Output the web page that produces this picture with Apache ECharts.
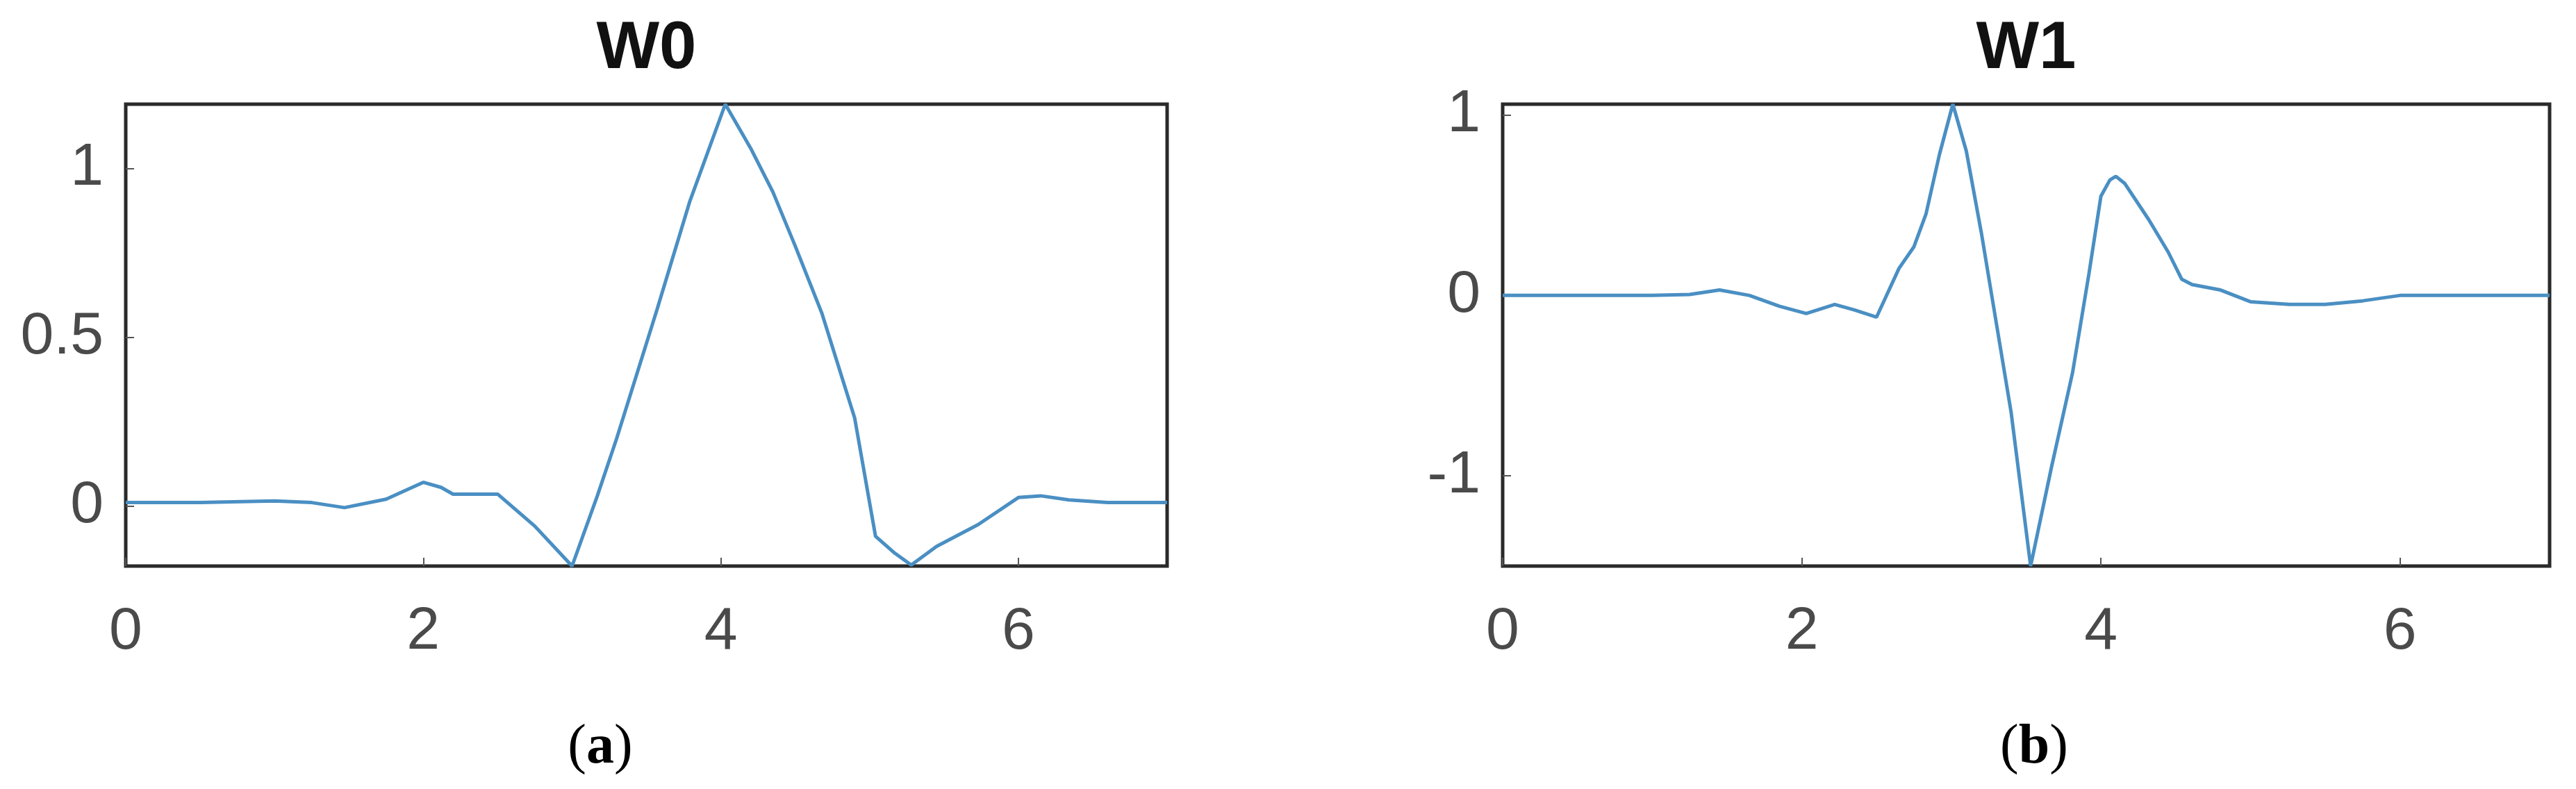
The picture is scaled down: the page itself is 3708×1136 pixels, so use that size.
<!DOCTYPE html>
<html>
<head>
<meta charset="utf-8">
<script src="https://cdn.jsdelivr.net/npm/echarts@6/dist/echarts.min.js"></script>
<style>
html,body{margin:0;padding:0;background:#fff;}
#chart{width:3708px;height:1136px;}
</style>
</head>
<body>
<div id="chart"></div>
<script>
// ---- data ----
const titles = ['W0', 'W1'];
const captions = ['a', 'b'];
const xTicks = [0, 2, 4, 6];
const yTicksW0 = [0, 0.5, 1];
const yTicksW1 = [-1, 0, 1];

const tW0 = [0, 0.5, 1.0, 1.25, 1.47, 1.75, 2.0, 2.12, 2.2, 2.5, 2.75, 3.0, 3.17, 3.3, 3.57, 3.79, 4.03, 4.2, 4.35, 4.5, 4.68, 4.9, 5.04, 5.17, 5.28, 5.45, 5.73, 6.0, 6.15, 6.34, 6.6, 7.0];
const vW0 = [0.01, 0.01, 0.015, 0.01, -0.005, 0.02, 0.07, 0.055, 0.035, 0.035, -0.06, -0.178, 0.03, 0.2, 0.58, 0.9, 1.19, 1.06, 0.93, 0.77, 0.57, 0.26, -0.09, -0.14, -0.175, -0.12, -0.055, 0.025, 0.03, 0.018, 0.01, 0.01];

const tW1 = [0, 0.5, 1.0, 1.25, 1.45, 1.65, 1.85, 2.03, 2.22, 2.35, 2.5, 2.65, 2.75, 2.83, 2.92, 3.01, 3.1, 3.2, 3.3, 3.4, 3.53, 3.67, 3.81, 3.92, 4.0, 4.06, 4.1, 4.16, 4.32, 4.45, 4.54, 4.61, 4.8, 5.0, 5.26, 5.5, 5.75, 6.0, 6.5, 7.0];
const vW1 = [0, 0, 0, 0.005, 0.03, 0, -0.06, -0.1, -0.05, -0.08, -0.12, 0.15, 0.27, 0.45, 0.78, 1.06, 0.8, 0.35, -0.15, -0.65, -1.5, -0.95, -0.43, 0.12, 0.55, 0.64, 0.66, 0.62, 0.42, 0.24, 0.09, 0.06, 0.03, -0.035, -0.05, -0.05, -0.03, 0, 0, 0];

const yRangeW0 = [-0.178, 1.19];
const yRangeW1 = [-1.5, 1.06];
const xRange = [0, 7];

// ---- layout / style ----
const grids = [
  {left: 181, top: 150, width: 1499, height: 665},
  {left: 2163, top: 150, width: 1507, height: 665}
];
const lineColor = '#4a8fc3';
const axisTextColor = '#4a4a4a';
const sansFont = 'Liberation Sans, Arial, Helvetica, sans-serif';
const serifFont = 'Liberation Serif, Times New Roman, serif';

function onTicks(ticks) {
  return function (v) {
    for (const t of ticks) { if (Math.abs(v - t) < 1e-6) return String(t); }
    return '';
  };
}

function xAxis(i) {
  return {
    type: 'value', gridIndex: i, min: xRange[0], max: xRange[1], interval: 2,
    axisLine: {show: false, onZero: false},
    axisTick: {show: true, inside: true, length: 12, lineStyle: {color: '#555', width: 2}},
    splitLine: {show: false},
    axisLabel: {show: true, margin: 52, fontSize: 86, fontFamily: sansFont, color: axisTextColor,
      showMaxLabel: false, formatter: onTicks(xTicks)}
  };
}
function yAxis(i, range, ticks, split) {
  return {
    type: 'value', gridIndex: i, min: range[0], max: range[1], splitNumber: split,
    axisLine: {show: false, onZero: false},
    axisTick: {show: true, inside: true, length: 12, lineStyle: {color: '#555', width: 2}},
    splitLine: {show: false},
    axisLabel: {show: true, margin: 32, fontSize: 86, fontFamily: sansFont, color: axisTextColor,
      showMinLabel: false, showMaxLabel: false, formatter: onTicks(ticks)}
  };
}

const chart = echarts.init(document.getElementById('chart'), null, {renderer: 'canvas'});

const option = {
  backgroundColor: '#ffffff',
  animation: false,
  grid: grids.map(g => Object.assign({show: true, borderColor: '#2a2a2a', borderWidth: 5, backgroundColor: 'transparent', containLabel: false}, g)),
  xAxis: [xAxis(0), xAxis(1)],
  yAxis: [yAxis(0, yRangeW0, yTicksW0, 3), yAxis(1, yRangeW1, yTicksW1, 2)],
  series: [
    {type: 'line', xAxisIndex: 0, yAxisIndex: 0, data: tW0.map((t, k) => [t, vW0[k]]),
      showSymbol: false, smooth: false, lineStyle: {color: lineColor, width: 5}, z: 3},
    {type: 'line', xAxisIndex: 1, yAxisIndex: 1, data: tW1.map((t, k) => [t, vW1[k]]),
      showSymbol: false, smooth: false, lineStyle: {color: lineColor, width: 5}, z: 3}
  ],
  graphic: [
    {type: 'text', x: grids[0].left + grids[0].width / 2, y: 72, style: {text: titles[0], font: 'bold 96px ' + sansFont, fill: '#111', align: 'center', verticalAlign: 'middle'}},
    {type: 'text', x: grids[1].left + grids[1].width / 2, y: 72, style: {text: titles[1], font: 'bold 96px ' + sansFont, fill: '#111', align: 'center', verticalAlign: 'middle'}},
    {type: 'text', x: 864, y: 1077, style: {text: '{p|(}{b|' + captions[0] + '}{p|)}', align: 'center', verticalAlign: 'middle',
      rich: {p: {fontFamily: serifFont, fontSize: 80, fill: '#000'}, b: {fontFamily: serifFont, fontSize: 80, fontWeight: 'bold', fill: '#000'}}}},
    {type: 'text', x: 2928, y: 1077, style: {text: '{p|(}{b|' + captions[1] + '}{p|)}', align: 'center', verticalAlign: 'middle',
      rich: {p: {fontFamily: serifFont, fontSize: 80, fill: '#000'}, b: {fontFamily: serifFont, fontSize: 80, fontWeight: 'bold', fill: '#000'}}}}
  ]
};
chart.setOption(option);
</script>
</body>
</html>
